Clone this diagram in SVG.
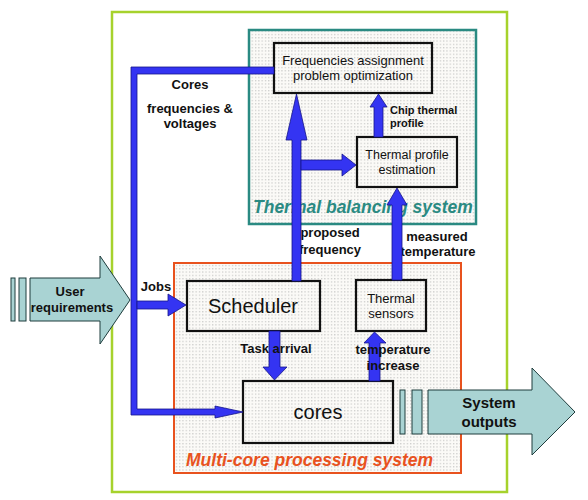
<svg xmlns="http://www.w3.org/2000/svg" width="588" height="500" viewBox="0 0 588 500">
<defs>
<pattern id="dots" x="0" y="0" width="3.3" height="3.3" patternUnits="userSpaceOnUse">
<rect width="3.3" height="3.3" fill="#fbfaf7"/>
<rect x="1" y="1" width="1" height="1" fill="#b0b0b0"/>
</pattern>
<style>
.box{fill:none;stroke:#111;stroke-width:2.2}
.blue{fill:#3434f2;stroke:#14148a;stroke-width:0.8}
.big{fill:#a9d3d3;stroke:#1e3c3c;stroke-width:1}
.t{font-family:"Liberation Sans",Arial,sans-serif;fill:#111;text-anchor:middle}
.n{font-size:13px}
.b{font-weight:bold;font-size:13px}
.title{font-family:"Liberation Sans",Arial,sans-serif;font-weight:bold;font-style:italic;font-size:17.5px}
</style>
</defs>
<rect width="588" height="500" fill="#fff"/>
<g id="outer-system">
<rect x="112" y="12" width="395" height="480" fill="#fff" stroke="#a6d22c" stroke-width="2.5"/>
</g>
<g id="thermal-balancing-system">
<rect x="249" y="30" width="227" height="194" fill="url(#dots)" stroke="#2a8a82" stroke-width="2.5"/>
<text class="title" x="253" y="213" fill="#2a8a82">Thermal balancing system</text>
</g>
<g id="multicore-processing-system">
<rect x="174" y="263" width="287" height="210" fill="url(#dots)" stroke="#e8521e" stroke-width="2"/>
<text class="title" x="186" y="466" fill="#e8521e">Multi-core processing system</text>
</g>
<g id="labels">
<text class="t b" x="190" y="89">Cores</text>
<text class="t b" x="190" y="113">frequencies &amp;</text>
<text class="t b" x="190" y="128">voltages</text>
<text class="t b" x="330" y="237">proposed</text>
<text class="t b" x="330" y="254">frequency</text>
<text class="t b" x="437" y="241">measured</text>
<text class="t b" x="438" y="256">temperature</text>
<text class="t b" x="156" y="291">Jobs</text>
</g>
<g id="freq-opt">
<rect class="box" x="274" y="43" width="158" height="50"/>
<text class="t n" x="353" y="65">Frequencies assignment</text>
<text class="t n" x="353" y="80">problem optimization</text>
</g>
<g id="thermal-profile">
<rect class="box" x="357" y="137" width="100" height="50"/>
<text class="t" x="407" y="158.5" font-size="12.5">Thermal profile</text>
<text class="t" x="407" y="173.5" font-size="12.5">estimation</text>
</g>
<g id="scheduler">
<rect class="box" x="187" y="281" width="133" height="50"/>
<text class="t" x="253" y="313" font-size="20">Scheduler</text>
</g>
<g id="thermal-sensors">
<rect class="box" x="356" y="280" width="70" height="51"/>
<text class="t n" x="391" y="303">Thermal</text>
<text class="t n" x="391" y="318">sensors</text>
</g>
<g id="cores">
<rect class="box" x="243" y="381" width="150" height="62"/>
<text class="t" x="318" y="419" font-size="20">cores</text>
</g>
<g id="connectors">
<polygon class="blue" points="274,67 131,67 131,415 215,415 215,418 243,412 215,406 215,409 137,409 137,74 274,74"/>
<polygon class="blue" points="137,301 168,301 168,294 186,305 168,316 168,309 137,309"/>
<polygon class="blue" points="292,281 292,140 286,140 296.5,94 307,140 301,140 301,281"/>
<polygon class="blue" points="301,160 342,160 342,154 356,165 342,176 342,170 301,170"/>
<polygon class="blue" points="392,280 392,205 387,205 397,188 407,205 402,205 402,280"/>
<polygon class="blue" points="374,137 374,107 370,107 378.5,94 387,107 383,107 383,137"/>
<polygon class="blue" points="269,331 280,331 280,367 287,367 274.5,380 263,367 269,367"/>
<polygon class="blue" points="369,381 369,343 364,343 374.5,332 386,343 380,343 380,381"/>
<text class="t b" x="390" y="114" style="text-anchor:start;font-size:11px">Chip thermal</text>
<text class="t b" x="390" y="127" style="text-anchor:start;font-size:11px">profile</text>
<text class="t b" x="276" y="353">Task arrival</text>
<text class="t b" x="393" y="354">temperature</text>
<text class="t b" x="393" y="370">increase</text>
</g>
<g id="user-requirements">
<rect class="big" x="11" y="278" width="4" height="43"/>
<rect class="big" x="19" y="278" width="7" height="43"/>
<polygon class="big" points="30,278 100,278 100,256 130,300 100,344 100,321 30,321"/>
<text class="t b" x="70" y="296">User</text>
<text class="t b" x="72" y="312">requirements</text>
</g>
<g id="system-outputs">
<rect class="big" x="400" y="390" width="5" height="44"/>
<rect class="big" x="412" y="390" width="10" height="44"/>
<polygon class="big" points="428,390 532,390 532,368 575,412 532,455 532,434 428,434"/>
<text class="t" x="489" y="408" font-size="15" font-weight="bold">System</text>
<text class="t" x="489" y="427" font-size="15" font-weight="bold">outputs</text>
</g>
</svg>
